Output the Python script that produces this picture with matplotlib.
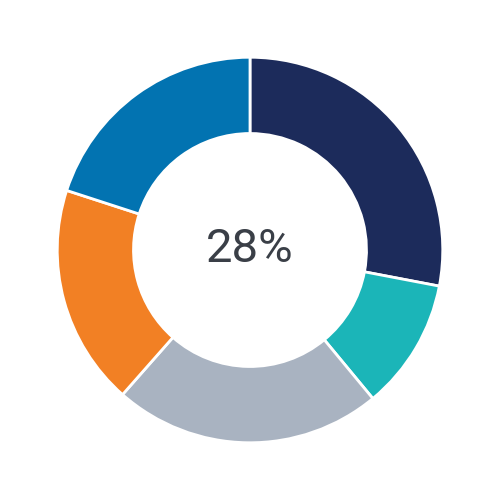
import matplotlib
matplotlib.use('Agg')
import matplotlib.pyplot as plt

# segment shares, clockwise from 12 o'clock
labels = ['Navy', 'Teal', 'Gray', 'Orange', 'Blue']
shares = [28, 11, 22.5, 18.5, 20]
colors = ['#1C2B5B', '#1BB5B8', '#A9B3C1', '#F28024', '#0273B1']
center_text = '28%'

fig = plt.figure(figsize=(5, 5), dpi=100)
ax = fig.add_axes([0, 0, 1, 1])

ax.pie(shares, colors=colors, startangle=90, counterclock=False,
       radius=0.771, labels=None,
       wedgeprops=dict(width=0.305, edgecolor='white', linewidth=2))
ax.text(0, 0.005, center_text, ha='center', va='center', fontsize=34,
        color='#3A3F47', family=['Roboto', 'DejaVu Sans'])
ax.set_xlim(-1, 1)
ax.set_ylim(-1, 1)
ax.set_aspect('equal')
ax.axis('off')

plt.savefig('out.png', dpi=100, facecolor='white')
